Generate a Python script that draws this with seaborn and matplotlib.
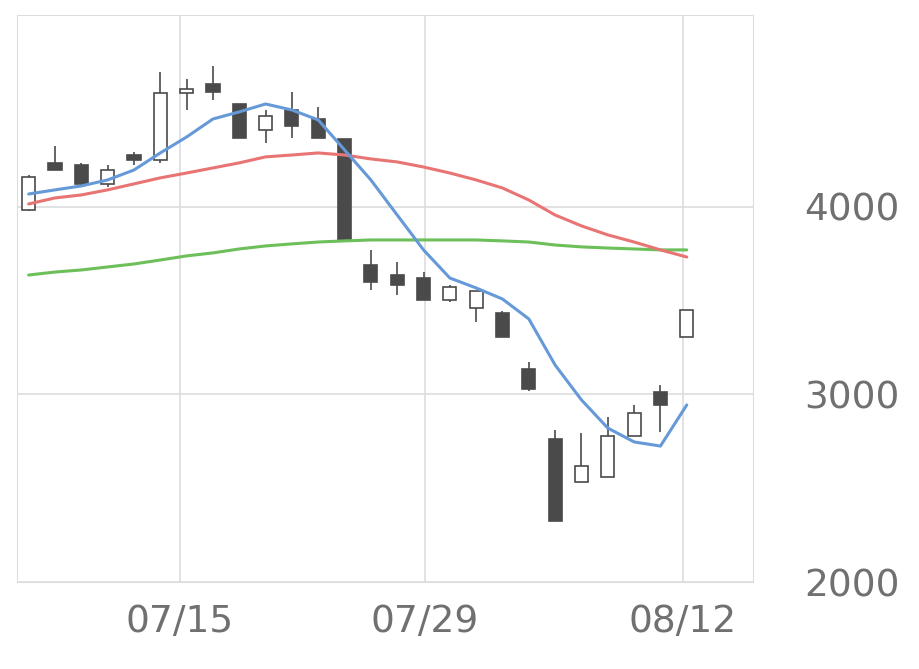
import numpy as np
import pandas as pd
import seaborn as sns
import matplotlib.pyplot as plt

# daily OHLC (26 trading days)
opens = [3984, 4235, 4224, 4123, 4277, 4251, 4608, 4656, 4549, 4411, 4517, 4469, 4363,
         3691, 3637, 3621, 3504, 3461, 3435, 3136, 2763, 2533, 2560, 2779, 3013, 3307]
closes = [4160, 4197, 4123, 4197, 4251, 4608, 4629, 4613, 4368, 4485, 4432, 4368, 3819,
          3600, 3584, 3504, 3573, 3552, 3307, 3029, 2325, 2619, 2779, 2901, 2944, 3451]
highs = [4170, 4325, 4235, 4224, 4293, 4720, 4683, 4752, 4549, 4517, 4613, 4533, 4363,
         3771, 3707, 3653, 3584, 3552, 3445, 3173, 2811, 2795, 2880, 2944, 3051, 3451]
lows = [3979, 4197, 4107, 4107, 4224, 4235, 4517, 4571, 4368, 4341, 4368, 4368, 3819,
        3557, 3531, 3504, 3493, 3387, 3307, 3019, 2325, 2533, 2560, 2779, 2800, 3307]

ma_short = [4069, 4091, 4112, 4144, 4197, 4288, 4373, 4469, 4507, 4549, 4517, 4464, 4304,
            4144, 3957, 3771, 3621, 3568, 3509, 3403, 3157, 2971, 2821, 2747, 2725, 2944]
ma_mid = [4016, 4048, 4064, 4091, 4123, 4155, 4181, 4208, 4235, 4267, 4277, 4288, 4277,
          4256, 4240, 4213, 4181, 4144, 4101, 4037, 3957, 3899, 3851, 3813, 3771, 3733]
ma_long = [3637, 3653, 3664, 3680, 3696, 3717, 3739, 3755, 3776, 3792, 3803, 3813, 3819,
           3824, 3824, 3824, 3824, 3824, 3819, 3813, 3797, 3787, 3781, 3776, 3771, 3771]

tick_pos = [5.75, 15.05, 24.85]
tick_labels = ["07/15", "07/29", "08/12"]

idx = np.arange(len(opens))
df = pd.DataFrame({"i": idx, "short": ma_short, "mid": ma_mid, "long": ma_long})

sns.set_style("white")
fig, ax = plt.subplots(figsize=(9.2, 6.69), dpi=100)
fig.subplots_adjust(left=0.018, right=0.818, top=0.978, bottom=0.13)

o = np.array(opens); c = np.array(closes)
up = c >= o
ax.vlines(idx, lows, highs, color="#4a4a4a", lw=1.2, zorder=2)
ax.bar(idx[up], (c - o)[up], bottom=o[up], width=0.5, color="white",
       edgecolor="#4a4a4a", lw=1.2, zorder=3)
ax.bar(idx[~up], (o - c)[~up], bottom=c[~up], width=0.5, color="#4a4a4a",
       edgecolor="#4a4a4a", lw=1.2, zorder=3)

sns.lineplot(data=df, x="i", y="long", color="#6dbf5a", lw=2.2, ax=ax, zorder=4)
sns.lineplot(data=df, x="i", y="mid", color="#e87474", lw=2.2, ax=ax, zorder=4)
sns.lineplot(data=df, x="i", y="short", color="#6699d8", lw=2.2, ax=ax, zorder=5)

ax.set_xlim(-0.46, 27.5)
ax.set_ylim(2000, 5025)
ax.set_xticks(tick_pos)
ax.set_xticklabels(tick_labels)
ax.set_yticks([2000, 3000, 4000])
ax.yaxis.tick_right()
ax.tick_params(axis="both", length=0, labelsize=27, labelcolor="#707070")
ax.tick_params(axis="y", pad=106)
ax.tick_params(axis="x", pad=16)
for lbl in ax.get_yticklabels():
    lbl.set_horizontalalignment("right")
ax.grid(True, color="#dddddd", lw=1.2)
ax.set_axisbelow(True)
for s in ax.spines.values():
    s.set_color("#dddddd")
ax.set_xlabel("")
ax.set_ylabel("")

fig.savefig("out.png")
